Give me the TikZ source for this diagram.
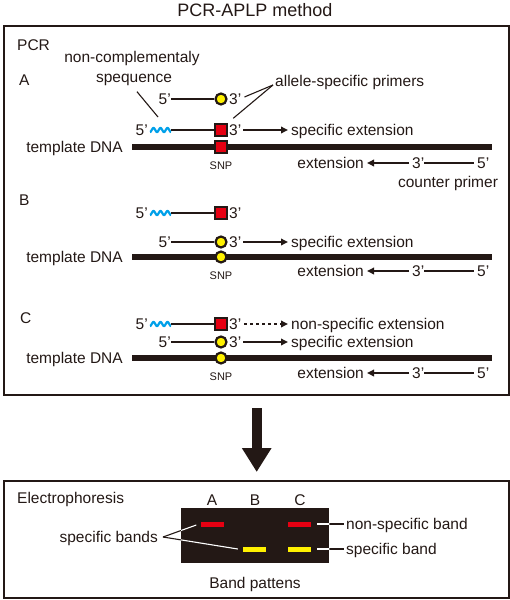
\documentclass[tikz,border=0pt]{standalone}
\usepackage{fontspec}
\setmainfont{Liberation Sans}
\usetikzlibrary{arrows.meta}
\definecolor{ink}{HTML}{231815}
\definecolor{snpred}{HTML}{E60012}
\definecolor{snpyel}{HTML}{FFF100}
\definecolor{wavec}{HTML}{00A0E9}
\newcommand\dnawave[2]{\draw[wav] plot[domain=0:21,samples=60] ({#1+\x},{#2+2*cos(\x*360/7)});}
\tikzset{
 lab/.style={font=\fontsize{15.5}{18}\selectfont, text=ink, inner sep=0pt, text height=11pt, text depth=0pt},
 ttl/.style={font=\fontsize{18}{21}\selectfont, text=ink, inner sep=0pt, text height=13pt, text depth=0pt},
 small/.style={font=\fontsize{11}{13}\selectfont, text=ink, inner sep=0pt, text height=8pt, text depth=0pt},
 strand/.style={draw=ink, line width=2pt},
 tmpl/.style={draw=ink, line width=6pt},
 sq/.style={rectangle, draw=ink, fill=snpred, line width=2pt, minimum size=12pt, inner sep=0pt},
 ci/.style={circle, draw=ink, fill=snpyel, line width=2.2pt, minimum size=11pt, inner sep=0pt},
 ext/.style={draw=ink, line width=2pt, -{Triangle[length=7pt,width=6.5pt]}},
 dext/.style={draw=ink, line width=2.6pt, dash pattern=on 2.6pt off 3.4pt, -{Triangle[length=7pt,width=6.5pt]}},
 lead/.style={draw=ink, line width=1.1pt},
 frame/.style={rectangle, draw=ink, line width=2.4pt, inner sep=0pt},
 wav/.style={draw=wavec, line width=2.2pt},
 band/.style={rectangle, inner sep=0pt, minimum width=23pt, minimum height=5pt},
 bigarrow/.style={draw=ink, line width=10pt, -{Triangle[length=24pt,width=28pt]}},
}
\begin{document}
\begin{tikzpicture}[x=1pt,y=-1pt]
\useasboundingbox (0,0) rectangle (510,600);
\node[ttl] (title) at (255,10) {PCR-APLP method};
\node[frame, minimum width=505pt, minimum height=369pt, anchor=north west] (pcr) at (3,25) {};
\node[lab, anchor=west] (pcrl) at (17,45) {PCR};

% ---------- A ----------
\node[lab, anchor=west] (Al) at (19,80) {A};
\node[lab] (nc1) at (132,57) {non-complementaly};
\node[lab] (nc2) at (134,77) {spequence};
\node[lab, anchor=west] (asp) at (275,81) {allele-specific primers};

\node[lab, anchor=east] (A5a) at (171,99) {5’};
\node[ci] (Aci) at (221,99) {};
\node[lab, anchor=west] (A3a) at (229,99) {3’};
\draw[strand] (A5a.east) -- (Aci.west);

\node[lab, anchor=east] (A5b) at (148,130) {5’};
\dnawave{150}{130}
\coordinate (Aw) at (171,130);
\node[sq] (Asq) at (221,130) {};
\node[lab, anchor=west] (A3b) at (229,130) {3’};
\draw[strand] (Aw) -- (Asq.west);
\node[lab, anchor=west] (Aspec) at (291,130) {specific extension};
\draw[ext] ([xshift=2pt]A3b.east) -- ([xshift=-3pt]Aspec.west);

\coordinate (AtL) at (132,147);
\coordinate (AtR) at (492,147);
\draw[tmpl] (AtL) -- (AtR);
\node[sq] (Asnp) at (221,147) {};
\node[lab, anchor=east] (Atd) at (123,147) {template DNA};
\node[small] (Asl) at (221,165) {SNP};

\node[lab, anchor=east] (Aext) at (364,163) {extension};
\node[lab, anchor=west] (Ac3) at (412,163) {3’};
\node[lab, anchor=west] (Ac5) at (477,163) {5’};
\draw[strand] (Ac3.east) -- ([xshift=-3pt]Ac5.west);
\draw[ext] ([xshift=-3pt]Ac3.west) -- ([xshift=3pt]Aext.east);
\node[lab] (cpl) at (448,182) {counter primer};

\draw[lead] ([xshift=3pt,yshift=-9pt]nc2.south) -- ([xshift=-13pt,yshift=13pt]Aw);
\draw[lead] ([xshift=-2pt,yshift=-4pt]asp.west) coordinate (aspv) -- ([xshift=3pt,yshift=2pt]A3a.east);
\draw[lead] (aspv) -- ([xshift=-2pt,yshift=6pt]A3b.north);

% ---------- B ----------
\node[lab, anchor=west] (Bl) at (19,200) {B};
\node[lab, anchor=east] (B5a) at (148,213) {5’};
\dnawave{150}{213}
\coordinate (Bw) at (171,213);
\node[sq] (Bsq) at (221,213) {};
\node[lab, anchor=west] (B3a) at (229,213) {3’};
\draw[strand] (Bw) -- (Bsq.west);

\node[lab, anchor=east] (B5b) at (171,242) {5’};
\node[ci] (Bci) at (221,242) {};
\node[lab, anchor=west] (B3b) at (229,242) {3’};
\draw[strand] (B5b.east) -- (Bci.west);
\node[lab, anchor=west] (Bspec) at (291,242) {specific extension};
\draw[ext] ([xshift=2pt]B3b.east) -- ([xshift=-3pt]Bspec.west);

\coordinate (BtL) at (132,257);
\coordinate (BtR) at (492,257);
\draw[tmpl] (BtL) -- (BtR);
\node[ci] (Bsnp) at (221,257) {};
\node[lab, anchor=east] (Btd) at (123,257) {template DNA};
\node[small] (Bsl) at (221,275) {SNP};

\node[lab, anchor=east] (Bext) at (364,271) {extension};
\node[lab, anchor=west] (Bc3) at (412,271) {3’};
\node[lab, anchor=west] (Bc5) at (477,271) {5’};
\draw[strand] (Bc3.east) -- ([xshift=-3pt]Bc5.west);
\draw[ext] ([xshift=-3pt]Bc3.west) -- ([xshift=3pt]Bext.east);

% ---------- C ----------
\node[lab, anchor=west] (Cl) at (20,318) {C};
\node[lab, anchor=east] (C5a) at (148,324) {5’};
\dnawave{150}{324}
\coordinate (Cw) at (171,324);
\node[sq] (Csq) at (221,324) {};
\node[lab, anchor=west] (C3a) at (229,324) {3’};
\draw[strand] (Cw) -- (Csq.west);
\node[lab, anchor=west] (Cnspec) at (291,324) {non-specific extension};
\draw[dext] ([xshift=3pt]C3a.east) -- ([xshift=-3pt]Cnspec.west);

\node[lab, anchor=east] (C5b) at (171,342) {5’};
\node[ci] (Cci) at (221,342) {};
\node[lab, anchor=west] (C3b) at (229,342) {3’};
\draw[strand] (C5b.east) -- (Cci.west);
\node[lab, anchor=west] (Cspec) at (291,342) {specific extension};
\draw[ext] ([xshift=2pt]C3b.east) -- ([xshift=-3pt]Cspec.west);

\coordinate (CtL) at (132,358);
\coordinate (CtR) at (492,358);
\draw[tmpl] (CtL) -- (CtR);
\node[ci] (Csnp) at (221,358) {};
\node[lab, anchor=east] (Ctd) at (123,358) {template DNA};
\node[small] (Csl) at (221,376) {SNP};

\node[lab, anchor=east] (Cext) at (364,373) {extension};
\node[lab, anchor=west] (Cc3) at (412,373) {3’};
\node[lab, anchor=west] (Cc5) at (477,373) {5’};
\draw[strand] (Cc3.east) -- ([xshift=-3pt]Cc5.west);
\draw[ext] ([xshift=-3pt]Cc3.west) -- ([xshift=3pt]Cext.east);

% ---------- Electrophoresis ----------
\node[frame, minimum width=505pt, minimum height=117pt, anchor=north west] (ele) at (3,480) {};
\draw[bigarrow] ([yshift=-12pt]pcr.south) -- ([yshift=8pt]ele.north);
\node[lab, anchor=west] (elel) at (17,498) {Electrophoresis};
\node[lab] (gA) at (212,500) {A};
\node[lab] (gB) at (255,500) {B};
\node[lab] (gC) at (300,500) {C};
\node[rectangle, fill=ink, inner sep=0pt, minimum width=148pt, minimum height=55pt, anchor=north west] (gel) at (181,508) {};
\node[band, fill=snpred] (bA) at (212,524) {};
\node[band, fill=snpyel] (bB) at (254.5,549) {};
\node[band, fill=snpred] (bC1) at (299.5,524) {};
\node[band, fill=snpyel] (bC2) at (299.5,549) {};
\node[lab, anchor=east] (sbt) at (158,537) {specific bands};
\node[lab, anchor=west] (nsb) at (346,524) {non-specific band};
\node[lab, anchor=west] (spb) at (346,549) {specific band};
\coordinate (sbv) at ([xshift=5pt]sbt.east);
\draw[lead] (sbv) -- ([xshift=-4pt,yshift=-1pt]bA.west);
\draw[lead] (sbv) -- ([xshift=-5pt]bB.west);
\draw[lead] ([xshift=6pt]bC1.east) -- ([xshift=-2pt]nsb.west);
\draw[lead] ([xshift=6pt]bC2.east) -- ([xshift=-2pt]spb.west);
\begin{scope}
\clip (gel.north west) rectangle (gel.south east);
\draw[lead, draw=white] (sbv) -- ([xshift=-4pt,yshift=-1pt]bA.west);
\draw[lead, draw=white] (sbv) -- ([xshift=-5pt]bB.west);
\draw[lead, draw=white] ([xshift=6pt]bC1.east) -- ([xshift=-2pt]nsb.west);
\draw[lead, draw=white] ([xshift=6pt]bC2.east) -- ([xshift=-2pt]spb.west);
\end{scope}
\node[lab] (bpt) at (255,583) {Band pattens};
\end{tikzpicture}
\end{document}
